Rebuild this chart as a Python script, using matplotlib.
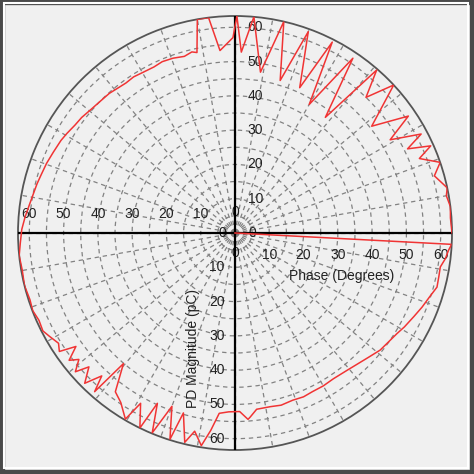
"""
Polar PD plot: PD magnitude (pC) versus phase (degrees)
"""
import numpy as np
import matplotlib
matplotlib.use('Agg')
import matplotlib.pyplot as plt
from matplotlib.patches import Rectangle
from matplotlib.transforms import offset_copy

plt.rcParams['font.family'] = ['Liberation Sans', 'DejaVu Sans']

# trace data: phase in degrees (counter-clockwise from the right), magnitude in pC
phase_deg = [0, 4, 7, 10, 12, 16, 19, 22, 24, 26, 28, 31, 34, 38, 43, 46, 49, 52, 56,
             60, 63, 66, 70, 73.5, 77, 81, 85, 88, 89.5, 90.6, 94.7, 97, 100,
             101.9, 103.4, 106, 109.5, 113, 116, 119.7, 123, 126, 129.3, 132,
             136, 139.7, 143, 146, 149.4, 152, 156, 159.7, 163, 166, 168.9, 172,
             175.6, 179, 182.7, 186, 190, 194, 198, 201, 204, 207, 209, 212, 214,
             215.5, 217.5, 219, 221, 222.5, 225, 227, 228.5, 229.5, 233, 236,
             239.5, 241, 244, 245.5, 247.5, 250, 252.5, 254, 256.5, 258.5, 261,
             263, 265, 268, 271.5, 274, 274.8, 277, 281.5, 285, 289, 292.7, 296,
             300, 304, 309.2, 313, 317, 321.1, 324, 328.1, 331, 335, 338.4, 342,
             345, 348, 350.6, 353, 355.4, 357, 357]
magnitude = [63.3, 63, 63.3, 62.6, 63.3, 60.5, 63.3, 58, 62.5, 56, 61.5, 52.8, 61, 50.6,
             63.3, 55, 63, 42.8, 61.5, 43.3, 62.5, 46.4, 62.5, 46.4, 63.3, 47.5,
             63.3, 52.8, 63.3, 57, 53.4, 63.3, 63.3, 53.8, 54.3, 53.6, 54.1, 54.3,
             53.9, 54, 54.3, 54.1, 54.4, 54.8, 55, 55.4, 56, 56.3, 57, 57.5, 58,
             58.6, 59, 59.5, 59.9, 60.5, 61.4, 62.2, 62.7, 63.3, 63, 63.3, 62.9,
             63.2, 62.6, 62.9, 62, 60.7, 61.8, 57, 61, 58.6, 61.7, 57.8, 62, 57,
             61.8, 50.1, 58, 59.6, 63, 56.8, 63.3, 54.6, 63.1, 53.8, 63.1, 54.6,
             62.8, 59, 62.8, 58, 52.8, 52.2, 52.1, 54.5, 53.8, 51.8, 51.7, 52,
             51.6, 51.8, 51.5, 51.5, 51.3, 51.7, 52.3, 53.2, 54.4, 54.8, 55.6, 56.5,
             57.6, 58.7, 59.8, 61, 60.8, 60.7, 61.8, 62.5, 63.3, 0]

r_max = 63.3
r_ticks = [10, 20, 30, 40, 50, 60]
r_grid = np.arange(5, 61, 5)
theta_grid = np.arange(0, 360, 10)

fig = plt.figure(figsize=(4.74, 4.74), dpi=100, facecolor='#f0f0f0')

# panel border
fig.add_artist(Rectangle((0, 0), 1, 1, transform=fig.transFigure, fill=False,
                         edgecolor='#4a4a4a', lw=4.5))
fig.add_artist(Rectangle((0.5 / 474, 0.5 / 474), 1 - 1 / 474, 1 - 1 / 474,
                         transform=fig.transFigure, fill=False,
                         edgecolor='#4a4a4a', lw=6, clip_on=False))
fig.add_artist(Rectangle((4 / 474, 6.5 / 474), 1 - 10 / 474, 1 - 9 / 474,
                         transform=fig.transFigure, fill=False,
                         edgecolor='white', lw=1.5))

# axes: centre at (235, 233) px, radius 217 px
rad = 217
ax = fig.add_axes([(235 - rad) / 474, (474 - 233 - rad) / 474, 2 * rad / 474, 2 * rad / 474],
                  projection='polar')
ax.set_facecolor('#f0f0f0')
ax.set_ylim(0, r_max)
ax.set_yticks(r_grid)
ax.set_yticklabels([])
ax.set_xticks(np.deg2rad(theta_grid))
ax.set_xticklabels([])
ax.grid(True, color='#828282', linestyle=(0, (3.5, 3)), lw=0.9)
ax.spines['polar'].set_color('#555555')
ax.spines['polar'].set_linewidth(1.3)

# cross lines through the centre
for a in [0, 90, 180, 270]:
    ax.plot([np.deg2rad(a)] * 2, [0, r_max], color='black', lw=1.6, zorder=4)

# the trace
ax.plot(np.deg2rad(phase_deg), magnitude, color='#f03434', lw=1.1, zorder=5)

txt = dict(fontsize=10, color='#222222', ha='center', va='center', zorder=3)


def label(theta, r, s, dx, dy):
    tr = offset_copy(ax.transData, fig=fig, x=dx, y=dy, units='dots')
    ax.text(np.deg2rad(theta), r, s, transform=tr, **txt)


for r in r_ticks:
    label(180, r, str(r), 0, 19.5)    # left, above the line
    label(0, r, str(r), 0, -22)       # right, below the line
    label(90, r, str(r), 20.5, 0)     # up, right of the line
    label(270, r, str(r), -18, 0)     # down, left of the line

for dx, dy in [(-13, 0), (17, 0), (0, 21), (0, -20)]:
    label(0, 0, '0', dx, dy)

fig.text(342 / 474, 1 - 276 / 474, 'Phase (Degrees)', fontsize=10, color='#222222',
         ha='center', va='center')
fig.text(193 / 474, 1 - 348 / 474, 'PD Magnitude (pC)', fontsize=10, color='#222222',
         ha='center', va='center', rotation=90)

fig.savefig('out.png', dpi=100, facecolor=fig.get_facecolor())
